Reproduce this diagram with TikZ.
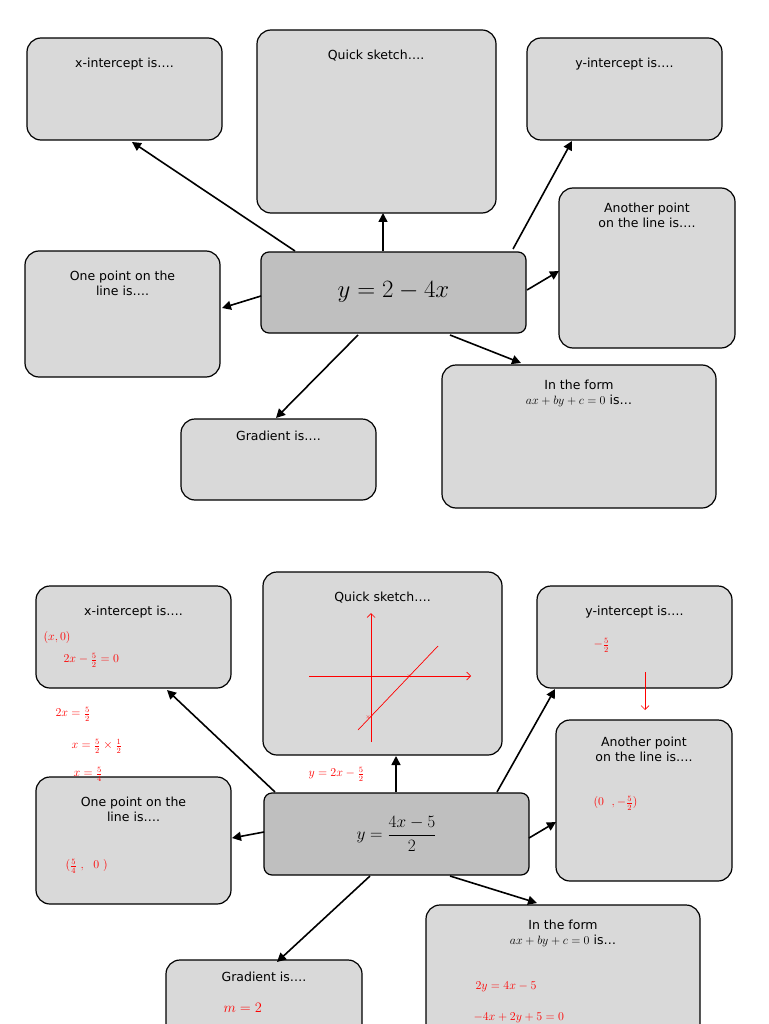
\documentclass[tikz,border=0pt]{standalone}
\usepackage{fontspec}
\setmainfont{DejaVu Sans}
\usetikzlibrary{arrows.meta}
\begin{document}
\begin{tikzpicture}[x=1pt,y=-1pt,
  box/.style={draw=black,line width=1.2pt,fill=boxgray,rounded corners=14pt},
  cbox/.style={draw=black,line width=1.2pt,fill=cgray,rounded corners=8pt},
  lab/.style={font=\fontsize{12.5}{15}\selectfont,align=center,anchor=north},
  arr/.style={-{Triangle[length=9pt,width=9pt]},line width=1.6pt},
  hw/.style={text=red,font=\fontsize{12}{14}\selectfont\itshape,anchor=west},
  redl/.style={draw=red,line width=0.7pt}]
\definecolor{boxgray}{HTML}{D9D9D9}
\definecolor{cgray}{HTML}{BFBFBF}
\useasboundingbox (0,0) rectangle (768,1024);
\clip (0,0) rectangle (768,1024);
% ---------- top ----------
\draw[box] (27,38) rectangle (222,140);
\draw[box] (257,30) rectangle (496,213);
\draw[box] (527,38) rectangle (722,140);
\draw[box] (559,188) rectangle (735,348);
\draw[box] (25,251) rectangle (220,377);
\draw[box] (181,419) rectangle (376,500);
\draw[box] (442,365) rectangle (716,508);
\draw[cbox] (261,252) rectangle (526,333);
\node[lab] (t1) at (124.5,54) {x-intercept is….};
\node[lab] (t2) at (376,46) {Quick sketch….};
\node[lab] (t3) at (624.5,54) {y-intercept is….};
\node[lab] (t4) at (647,199) {Another point\\on the line is….};
\node[lab] (t5) at (122.5,267) {One point on the\\line is….};
\node[lab] (t6) at (278.5,427) {Gradient is….};
\node[lab] (t7) at (579,376) {In the form\\$ax+by+c=0$ is…};
\node (c1) at (393.5,292) {\fontsize{30}{34}\selectfont$y=2-4x$};
\coordinate (a1) at (295,251); \coordinate (b1) at (132,142);
\coordinate (a2) at (383,251); \coordinate (b2) at (383,213);
\coordinate (a3) at (513,249); \coordinate (b3) at (572,141);
\coordinate (a4) at (527,290); \coordinate (b4) at (559,271);
\coordinate (a5) at (261,296); \coordinate (b5) at (222,308);
\coordinate (a6) at (358,335); \coordinate (b6) at (276,418);
\coordinate (a7) at (450,335); \coordinate (b7) at (521,363);
\foreach \i in {1,...,7} \draw[arr] (a\i) -- (b\i);
% ---------- bottom ----------
\draw[box] (36,586) rectangle (231,688);
\draw[box] (263,572) rectangle (502,755);
\draw[box] (537,586) rectangle (732,688);
\draw[box] (556,720) rectangle (732,881);
\draw[box] (36,777) rectangle (231,904);
\draw[box] (166,960) rectangle (362,1060);
\draw[box] (426,905) rectangle (700,1060);
\draw[cbox] (264,793) rectangle (529,875);
\node[lab] (s1) at (133.5,602) {x-intercept is….};
\node[lab] (s2) at (382.5,588) {Quick sketch….};
\node[lab] (s3) at (634.5,602) {y-intercept is….};
\node[lab] (s4) at (644,733) {Another point\\on the line is….};
\node[lab] (s5) at (133.5,793) {One point on the\\line is….};
\node[lab] (s6) at (264,968) {Gradient is….};
\node[lab] (s7) at (563,916) {In the form\\$ax+by+c=0$ is…};
\node (c2) at (396.5,834) {\fontsize{19}{22}\selectfont$\displaystyle y=\frac{4x-5}{2}$};
\coordinate (d1) at (275,792); \coordinate (e1) at (167,690);
\coordinate (d2) at (396,792); \coordinate (e2) at (396,756);
\coordinate (d3) at (497,792); \coordinate (e3) at (555,689);
\coordinate (d4) at (529,838); \coordinate (e4) at (556,822);
\coordinate (d5) at (264,832); \coordinate (e5) at (232,838);
\coordinate (d6) at (370,876); \coordinate (e6) at (277,962);
\coordinate (d7) at (450,876); \coordinate (e7) at (537,903);
\foreach \i in {1,...,7} \draw[arr] (d\i) -- (e\i);
% ---------- red handwriting ----------
\node[hw] (h1) at (40,637) {$(x,0)$};
\node[hw] (h2) at (60,660) {$2x-\frac{5}{2}=0$};
\node[hw] (h3) at (52,714) {$2x=\frac{5}{2}$};
\node[hw] (h4) at (68,746) {$x=\frac{5}{2}\times\frac{1}{2}$};
\node[hw] (h5) at (70,774) {$x=\frac{5}{4}$};
\node[hw] (h6) at (305,774) {$y=2x-\frac{5}{2}$};
\node[hw] (h7) at (590,645) {$-\frac{5}{2}$};
\coordinate (r1) at (645,672); \coordinate (r2) at (645,710);
\draw[redl,-{Straight Barb[length=4pt]}] (r1) -- (r2);
\node[hw] (h8) at (590,803) {$\bigl(0\ \ ,-\frac{5}{2}\bigr)$};
\node[hw] (h9) at (62,866) {$\bigl(\frac{5}{4}\ ,\ \ 0\ \bigr)$};
\node[hw] (h10) at (220,1008) {\fontsize{15}{17}\selectfont$m=2$};
\node[hw] (h11) at (472,987) {$2y=4x-5$};
\node[hw] (h12) at (470,1018) {$-4x+2y+5=0$};
% sketch
\coordinate (hx0) at (309,676); \coordinate (hx1) at (471,676);
\coordinate (vy0) at (371,742); \coordinate (vy1) at (371,613);
\coordinate (l0) at (358,730); \coordinate (l1) at (438,646);
\draw[redl,-{Straight Barb[length=4pt]}] (hx0) -- (hx1);
\draw[redl,-{Straight Barb[length=4pt]}] (vy0) -- (vy1);
\draw[redl] (l0) -- (l1);
\node[text=red,font=\tiny] (x1) at (409,676) {$\times$};
\node[text=red,font=\tiny] (x2) at (368,717) {$\times$};
\end{tikzpicture}
\end{document}
